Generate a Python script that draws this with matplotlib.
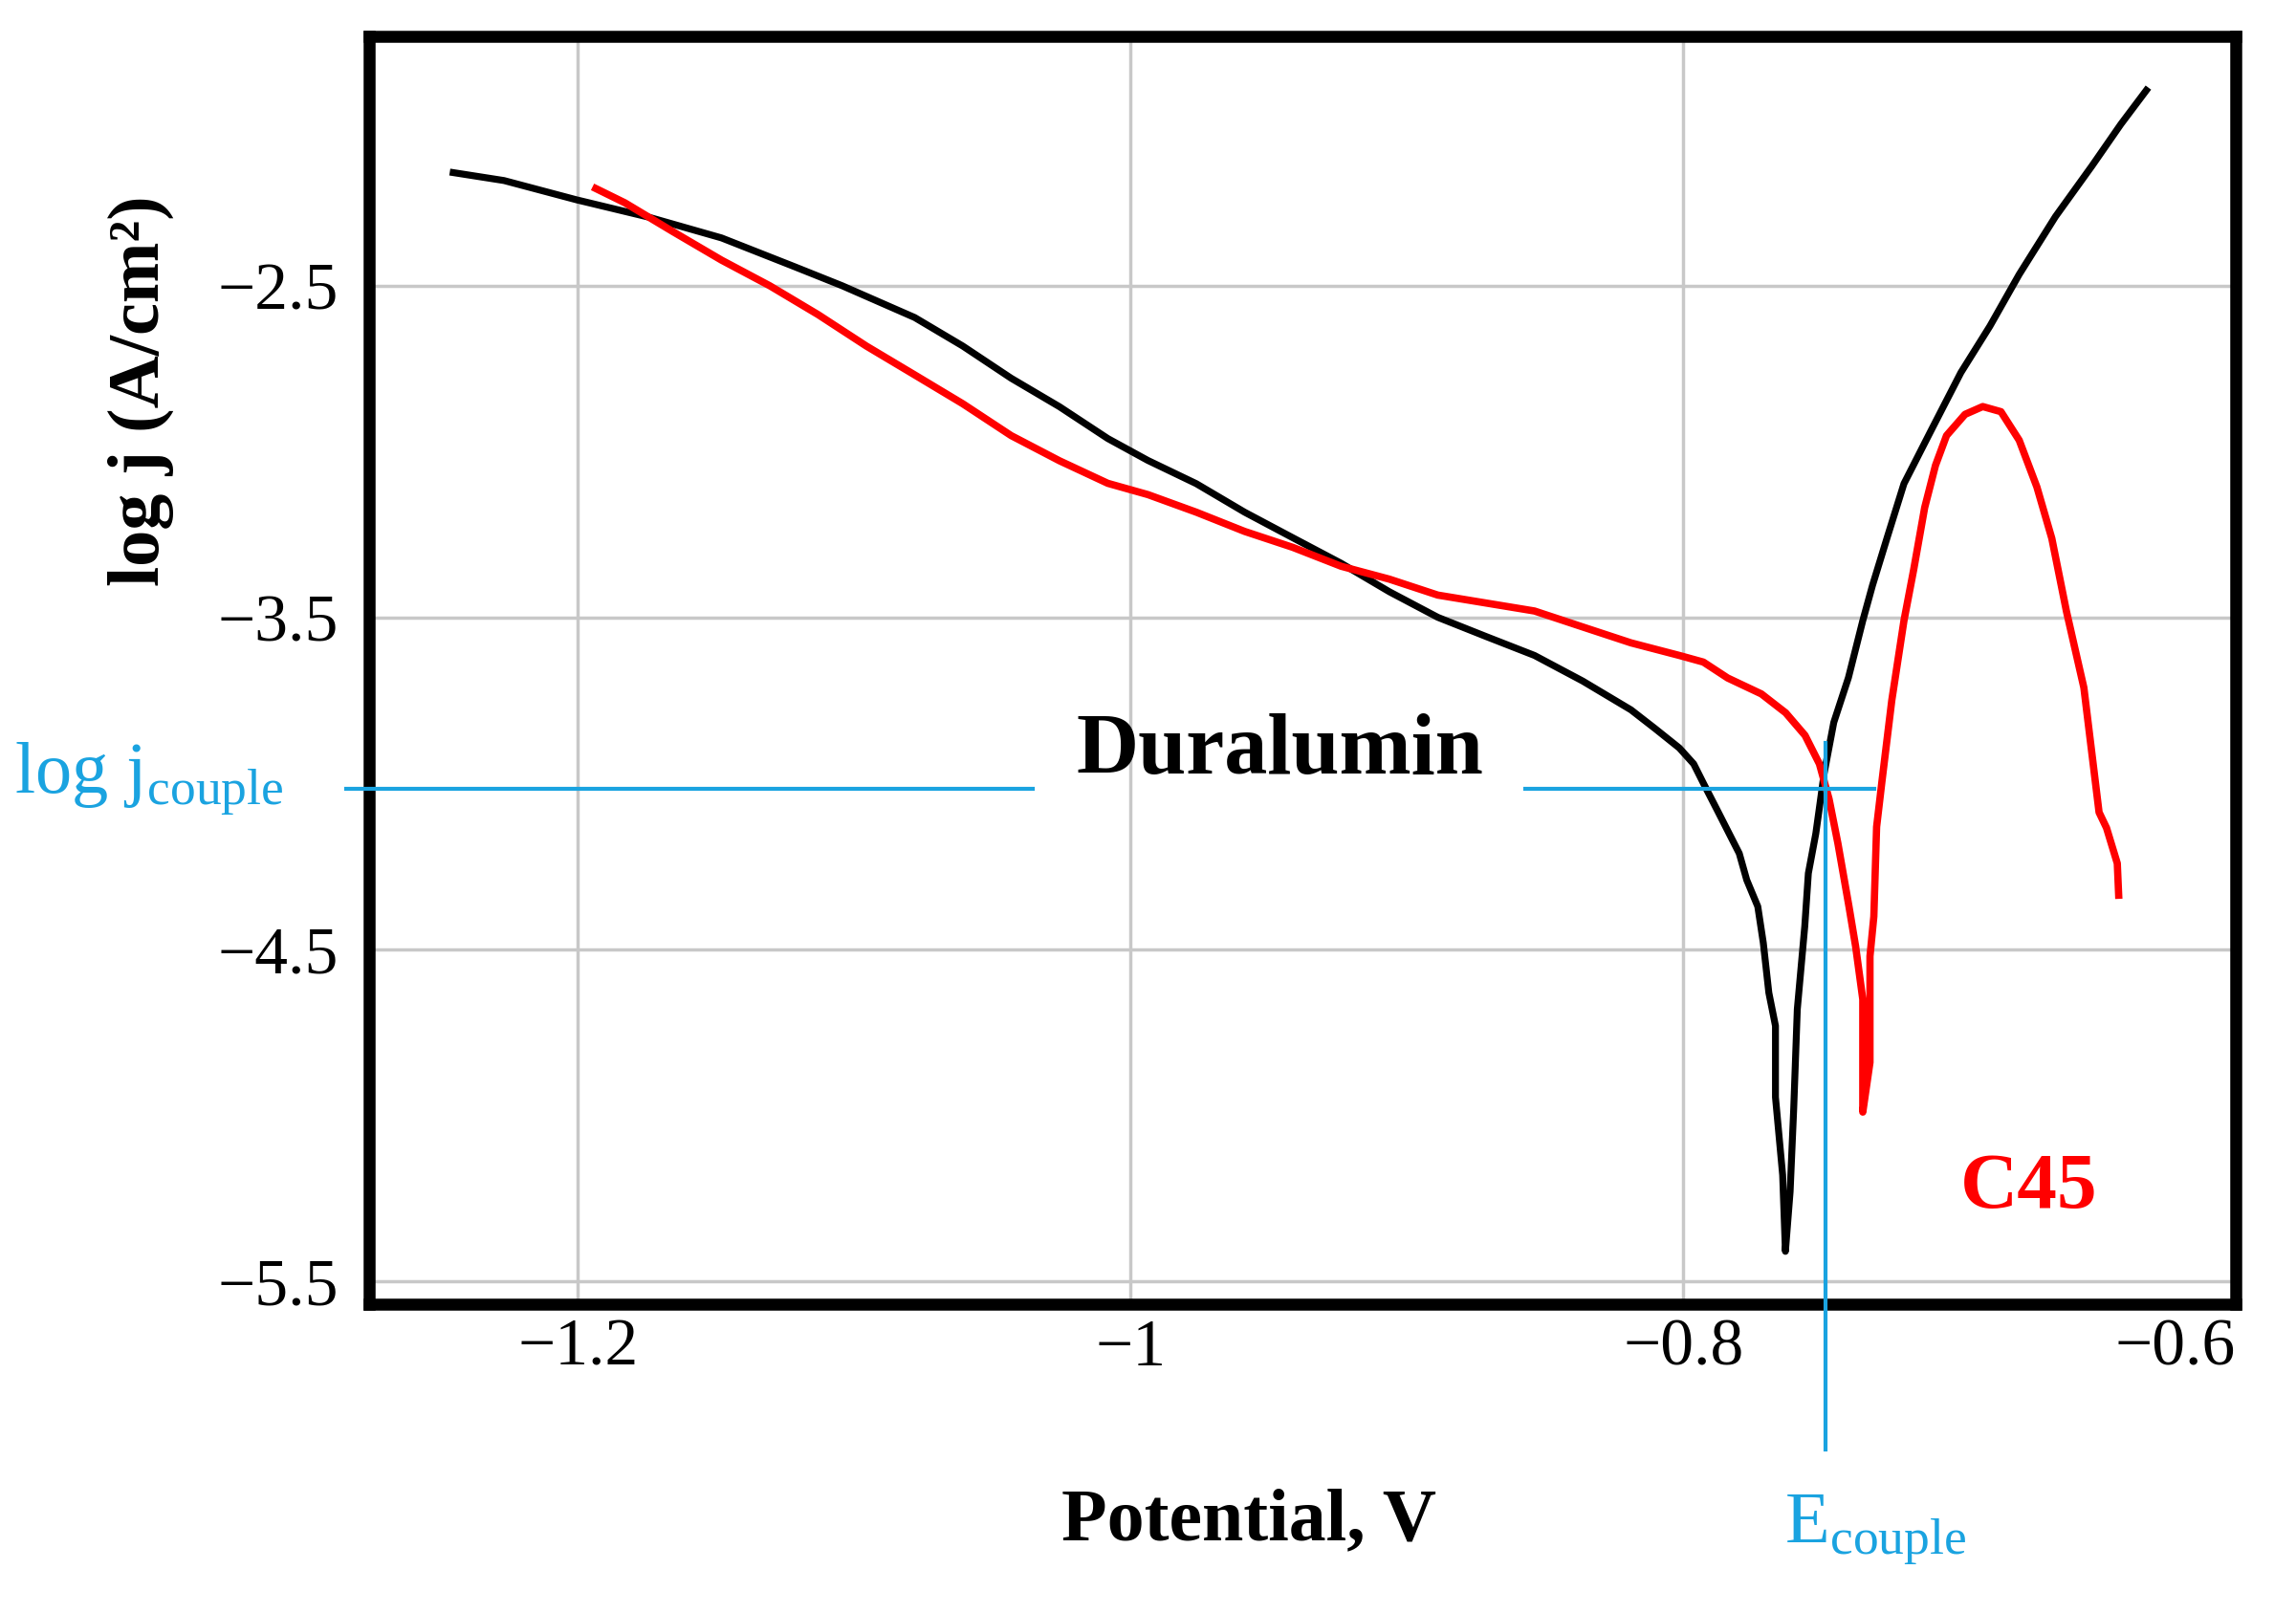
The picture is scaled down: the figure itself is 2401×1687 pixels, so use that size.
import matplotlib
matplotlib.use("Agg")
import matplotlib.pyplot as plt

plt.rcParams['font.family'] = ['Liberation Serif', 'DejaVu Serif']
plt.rcParams['mathtext.fontset'] = 'custom'
plt.rcParams['mathtext.rm'] = 'Liberation Serif'

# Duralumin polarisation curve (potential V, log j)
dural_E = [-1.2451, -1.2267, -1.2005, -1.1743, -1.148, -1.1218, -1.1044, -1.0781, -1.0607, -1.0432,
           -1.0257, -1.0082, -0.9937, -0.9762, -0.9587, -0.9413, -0.9238, -0.9063, -0.8888, -0.8713,
           -0.8538, -0.8364, -0.8189, -0.8101, -0.8014, -0.7962, -0.7927, -0.7874, -0.7797, -0.777,
           -0.773, -0.771, -0.769, -0.7666, -0.7666, -0.764, -0.763, -0.7613, -0.760, -0.7587,
           -0.756, -0.7547, -0.752, -0.7505, -0.749, -0.7455, -0.7402, -0.735, -0.7315, -0.7262,
           -0.7201, -0.710, -0.6995, -0.689, -0.6784, -0.6653, -0.652, -0.6416, -0.6324]
dural_logj = [-2.157, -2.181, -2.239, -2.2915, -2.354, -2.44, -2.498, -2.594, -2.68, -2.777,
              -2.863, -2.959, -3.025, -3.095, -3.181, -3.258, -3.335, -3.421, -3.498, -3.556,
              -3.613, -3.69, -3.777, -3.834, -3.892, -3.94, -3.998, -4.084, -4.21, -4.29,
              -4.37, -4.48, -4.63, -4.73, -4.945, -5.18, -5.41, -5.23, -4.98, -4.68,
              -4.43, -4.27, -4.15, -4.06, -3.969, -3.815, -3.68, -3.508, -3.402, -3.258,
              -3.095, -2.93, -2.76, -2.62, -2.464, -2.29, -2.136, -2.011, -1.909]

# C45 steel polarisation curve
c45_E = [-1.1935, -1.183, -1.1656, -1.148, -1.1306, -1.1131, -1.0956, -1.0781, -1.0607, -1.0432,
         -1.0257, -1.0082, -0.9937, -0.9762, -0.9587, -0.9413, -0.9238, -0.9063, -0.8888, -0.8713,
         -0.8538, -0.8364, -0.8189, -0.8014, -0.7927, -0.7839, -0.7717, -0.7629, -0.7559, -0.7507,
         -0.7472, -0.744, -0.740, -0.7376, -0.735, -0.735, -0.7324, -0.7324, -0.731, -0.730,
         -0.728, -0.7245, -0.7201, -0.7166, -0.7126, -0.7087, -0.7047, -0.698, -0.6916, -0.685,
         -0.6784, -0.672, -0.6666, -0.6613, -0.655, -0.6495, -0.6468, -0.6429, -0.6424]
c45_logj = [-2.205, -2.248, -2.335, -2.421, -2.498, -2.585, -2.68, -2.767, -2.854, -2.95,
            -3.026, -3.094, -3.128, -3.181, -3.239, -3.287, -3.344, -3.383, -3.431, -3.455,
            -3.479, -3.527, -3.575, -3.613, -3.633, -3.681, -3.729, -3.786, -3.854, -3.94,
            -4.046, -4.18, -4.37, -4.49, -4.65, -4.99, -4.84, -4.52, -4.40, -4.13,
            -3.988, -3.748, -3.508, -3.355, -3.167, -3.04, -2.95, -2.886, -2.8625, -2.878,
            -2.964, -3.105, -3.26, -3.48, -3.71, -4.086, -4.133, -4.24, -4.336]

# galvanic couple point
E_couple = -0.7486
logj_couple = -4.014

x_ticks = [-1.2, -1.0, -0.8, -0.6]
x_ticklabels = ['\u22121.2', '\u22121', '\u22120.8', '\u22120.6']
y_ticks = [-2.5, -3.5, -4.5, -5.5]
y_ticklabels = ['\u22122.5', '\u22123.5', '\u22124.5', '\u22125.5']

blue = '#1AA3E0'

fig = plt.figure(figsize=(24.01, 16.87), dpi=100)
ax = fig.add_axes([0.1608, 0.1915, 0.8130, 0.786])

ax.plot(dural_E, dural_logj, color='black', lw=5.2, zorder=3)
ax.plot(c45_E, c45_logj, color='#FF0000', lw=5.5, zorder=4)

ax.set_xlim(-1.2755, -0.6)
ax.set_ylim(-5.569, -1.746)
ax.set_xticks(x_ticks)
ax.set_xticklabels(x_ticklabels)
ax.set_yticks(y_ticks)
ax.set_yticklabels(y_ticklabels)
ax.xaxis.get_ticklabels()[-1].set_horizontalalignment('right')
ax.tick_params(length=0, labelsize=50)
ax.tick_params(axis='x', pad=11)
ax.tick_params(axis='y', pad=23)
ax.grid(True, color='#c8c8c8', lw=2.5, zorder=0)
for s in ax.spines.values():
    s.set_linewidth(9)
    s.set_color('black')

# couple lines (broken around the Duralumin label)
ax.plot([-1.284, -1.0355], [logj_couple, logj_couple], color=blue, lw=3, clip_on=False, zorder=6)
ax.plot([-0.857, -0.7307], [logj_couple, logj_couple], color=blue, lw=3, clip_on=False, zorder=6)
ax.plot([E_couple, E_couple], [-3.878, -6.008], color=blue, lw=3, clip_on=False, zorder=6)

ax.text(-0.946, -3.97, 'Duralumin', fontsize=65, fontweight='bold', ha='center',
        va='baseline', zorder=7)
ax.text(-0.675, -5.278, 'C45', fontsize=60, fontweight='bold', color='#FF0000',
        ha='center', va='baseline', zorder=7)

fig.text(0.0062, 0.5086, r'log j$_{\mathregular{couple}}$', fontsize=55, color=blue,
         ha='left', va='baseline')
fig.text(0.7772, 0.0439, r'E$_{\mathregular{couple}}$', fontsize=55, color=blue,
         ha='left', va='baseline')
fig.text(0.5439, 0.0456, 'Potential, V', fontsize=56, fontweight='bold',
         ha='center', va='baseline')
fig.text(0.0612, 0.758, 'log j (A/cm\u00b2)', fontsize=55, fontweight='bold',
         rotation=90, ha='center', va='center')

fig.savefig('out.png', dpi=100, facecolor='white')
